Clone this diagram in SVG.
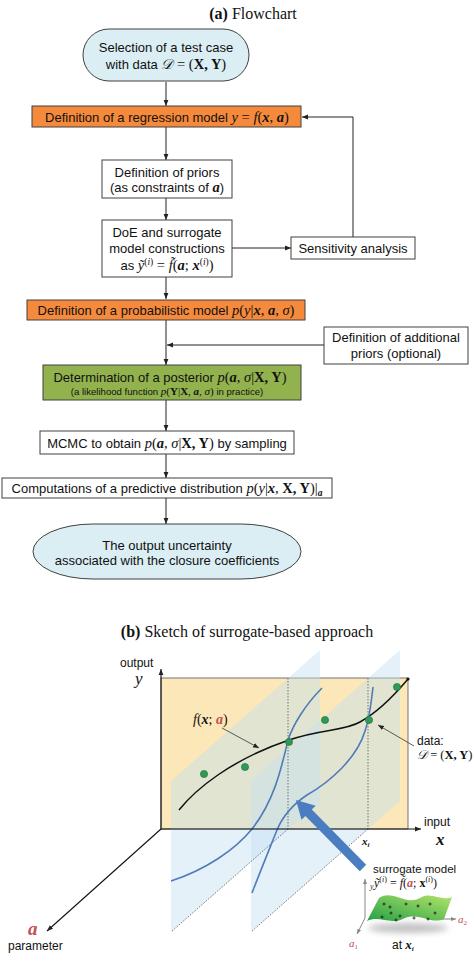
<svg xmlns="http://www.w3.org/2000/svg" width="474" height="961" viewBox="0 0 474 961">
<style>
.t{font-family:"Liberation Sans",Arial,sans-serif;font-size:13px;fill:#111}
.m{font-family:"Liberation Serif","Times New Roman",serif}
.t .m{font-size:14.5px}
.s{font-size:9.6px}
.s .m{font-size:11px}
.i{font-style:italic}
.b{font-weight:bold}
.r{fill:#c0504d}
.ttl{font-family:"Liberation Serif","Times New Roman",serif;font-size:16px;fill:#111}
.box{stroke:#404040;stroke-width:1}
.wb{fill:#fff}
.or{fill:#f58a3c}
.gr{fill:#92b24e}
.lb{fill:#daeef4}
.conn{stroke:#222;stroke-width:1;fill:none;marker-end:url(#ah)}
.plane{fill:#c4e1f1;opacity:0.45}
.dot{stroke:#555;stroke-width:0.8;stroke-dasharray:1.5,1.5;fill:none}
.blue{stroke:#4f7cb8;stroke-width:1.6;fill:none}
.pt{fill:#2e9a55;stroke:#1f6b3a;stroke-width:0.6}
.ax{stroke:#111;stroke-width:1.1;fill:none;marker-end:url(#ah)}
.lead{stroke:#333;stroke-width:0.8;fill:none;marker-end:url(#ah)}
.sax{stroke:#888;stroke-width:1;fill:none;marker-end:url(#ahg)}
.pl{stroke:#111;stroke-width:0.8}
</style>
<defs>
<marker id="ah" viewBox="0 0 10 10" refX="10" refY="5" markerUnits="userSpaceOnUse" markerWidth="6" markerHeight="6" orient="auto"><path d="M0,1 L10,5 L0,9 z" fill="#222"/></marker>
<marker id="ahg" viewBox="0 0 10 10" refX="10" refY="5" markerUnits="userSpaceOnUse" markerWidth="5" markerHeight="5" orient="auto"><path d="M0,1 L10,5 L0,9 z" fill="#888"/></marker>
<linearGradient id="gsurf" x1="0" y1="1" x2="1" y2="0"><stop offset="0" stop-color="#24a046"/><stop offset="1" stop-color="#b4e46a"/></linearGradient>
<filter id="blur" x="-30%" y="-50%" width="160%" height="200%"><feGaussianBlur stdDeviation="3"/></filter>
</defs>

<text class="ttl" x="253" y="19" text-anchor="middle"><tspan class="b">(a)</tspan> Flowchart</text>

<g id="connectors">
<path class="conn" d="M166,82 V106"/>
<path class="conn" d="M166,127 V160"/>
<path class="conn" d="M166,198 V220"/>
<path class="conn" d="M232,248 H291"/>
<path class="conn" d="M353,237 V117 H302"/>
<path class="conn" d="M166,277 V299"/>
<path class="conn" d="M166,320 V365"/>
<path class="conn" d="M324,345 H167"/>
<path class="conn" d="M166,400 V431"/>
<path class="conn" d="M166,454 V478"/>
<path class="conn" d="M166,498 V524"/>
</g>

<g id="start">
<rect class="box lb" x="83" y="29" width="166" height="52" rx="26" ry="26"/>
<text class="t" x="166" y="52" text-anchor="middle">Selection of a test case</text>
<text class="t" x="166" y="68.5" text-anchor="middle">with data <tspan class="m i">𝒟</tspan><tspan class="m"> = (</tspan><tspan class="m b">X, Y</tspan><tspan class="m">)</tspan></text>
</g>

<g id="regression">
<rect class="box or" x="32" y="106" width="269" height="21"/>
<text class="t" x="167" y="121.5" text-anchor="middle">Definition of a regression model <tspan class="m i">y</tspan><tspan class="m"> = </tspan><tspan class="m i">f</tspan><tspan class="m">(</tspan><tspan class="m i b">x</tspan><tspan class="m">, </tspan><tspan class="m i b">a</tspan><tspan class="m">)</tspan></text>
</g>

<g id="priors">
<rect class="box wb" x="102" y="160" width="130" height="38"/>
<text class="t" x="167" y="176.5" text-anchor="middle">Definition of priors</text>
<text class="t" x="167" y="192" text-anchor="middle">(as constraints of <tspan class="m i b">a</tspan>)</text>
</g>

<g id="doe">
<rect class="box wb" x="102" y="220" width="130" height="57"/>
<text class="t" x="167" y="236.5" text-anchor="middle">DoE and surrogate</text>
<text class="t" x="167" y="252.5" text-anchor="middle">model constructions</text>
<text class="t" x="167" y="270" text-anchor="middle">as <tspan class="m i">ỹ</tspan><tspan class="m" style="font-size:9.5px" dy="-5">(</tspan><tspan class="m i" style="font-size:9.5px">i</tspan><tspan class="m" style="font-size:9.5px">)</tspan><tspan class="m" dy="5"> = </tspan><tspan class="m i">f̃</tspan><tspan class="m">(</tspan><tspan class="m i b">a</tspan><tspan class="m">; </tspan><tspan class="m i b">x</tspan><tspan class="m" style="font-size:9.5px" dy="-5">(</tspan><tspan class="m i" style="font-size:9.5px">i</tspan><tspan class="m" style="font-size:9.5px">)</tspan><tspan class="m" dy="5">)</tspan></text>
</g>

<g id="sensitivity">
<rect class="box wb" x="291" y="237" width="124" height="22"/>
<text class="t" x="353" y="252.5" text-anchor="middle">Sensitivity analysis</text>
</g>

<g id="probabilistic">
<rect class="box or" x="27" y="300" width="278" height="20"/>
<text class="t" x="166" y="314.5" text-anchor="middle">Definition of a probabilistic model <tspan class="m i">p</tspan><tspan class="m">(</tspan><tspan class="m i">y</tspan><tspan class="m">|</tspan><tspan class="m i b">x</tspan><tspan class="m">, </tspan><tspan class="m i b">a</tspan><tspan class="m">, </tspan><tspan class="m i">σ</tspan><tspan class="m">)</tspan></text>
</g>

<g id="additional">
<rect class="box wb" x="324" y="327" width="144" height="37"/>
<text class="t" x="396" y="341.5" text-anchor="middle">Definition of additional</text>
<text class="t" x="396" y="357.5" text-anchor="middle">priors (optional)</text>
</g>

<g id="posterior">
<rect class="box gr" x="43" y="365" width="258" height="35"/>
<text class="t" x="170" y="381.5" text-anchor="middle">Determination of a posterior <tspan class="m i">p</tspan><tspan class="m">(</tspan><tspan class="m i b">a</tspan><tspan class="m">, </tspan><tspan class="m i">σ</tspan><tspan class="m">|</tspan><tspan class="m b">X, Y</tspan><tspan class="m">)</tspan></text>
<text class="t s" x="167" y="395" text-anchor="middle">(a likelihood  function <tspan class="m i">p</tspan><tspan class="m">(</tspan><tspan class="m b">Y</tspan><tspan class="m">|</tspan><tspan class="m b">X</tspan><tspan class="m">, </tspan><tspan class="m i b">a</tspan><tspan class="m">, </tspan><tspan class="m i">σ</tspan><tspan class="m">)</tspan> in practice)</text>
</g>

<g id="mcmc">
<rect class="box wb" x="40" y="431" width="254" height="23"/>
<text class="t" x="167" y="447.5" text-anchor="middle">MCMC to obtain <tspan class="m i">p</tspan><tspan class="m">(</tspan><tspan class="m i b">a</tspan><tspan class="m">, </tspan><tspan class="m i">σ</tspan><tspan class="m">|</tspan><tspan class="m b">X, Y</tspan><tspan class="m">)</tspan> by sampling</text>
</g>

<g id="predictive">
<rect class="box wb" x="2" y="478" width="330" height="20"/>
<text class="t" x="167" y="492.5" text-anchor="middle">Computations of a predictive distribution <tspan class="m i">p</tspan><tspan class="m">(</tspan><tspan class="m i">y</tspan><tspan class="m">|</tspan><tspan class="m i b">x</tspan><tspan class="m">, </tspan><tspan class="m b">X, Y</tspan><tspan class="m">)|</tspan><tspan class="m i b" style="font-size:9.5px" dy="3">a</tspan></text>
</g>

<g id="end">
<rect class="box lb" x="33" y="524" width="268" height="55" rx="60" ry="27.5"/>
<text class="t" x="167" y="549.5" text-anchor="middle">The output uncertainty</text>
<text class="t" x="167" y="565" text-anchor="middle">associated with the closure coefficients</text>
</g>

<text class="ttl" x="247" y="637" text-anchor="middle"><tspan class="b">(b)</tspan> Sketch of surrogate-based approach</text>

<g id="sketch">
<rect x="161" y="678" width="247" height="151" fill="#fce7b8" stroke="#555" stroke-width="0.8"/>
<polygon class="plane" points="171,932 171,781 320,650 320,801"/>
<polygon class="plane" points="251,932 251,781 400,650 400,801"/>
<path class="dot" d="M288,678 V829 M368,678 V829"/>
<path class="dot" d="M288,829 L171,932 M368,829 L251,932"/>
<path d="M179,810 C195,790 230,760 289,740 C320,729 345,731 360,722 C378,712 392,698 408,679" stroke="#111" stroke-width="1.5" fill="none"/>
<circle cx="408" cy="679" r="1.6" fill="#111"/>
<path class="blue" d="M322,688 C305,705 293,725 288,740 C282,765 275,800 252,829 C235,850 205,870 171,881"/>
<path class="blue" d="M373,687 C371,705 369,720 365,731 C357,758 330,782 307,795 C292,805 282,818 277,830 C269,850 260,872 252,893"/>
<circle class="pt" cx="204" cy="774" r="3.6"/>
<circle class="pt" cx="245" cy="767" r="3.6"/>
<circle class="pt" cx="289" cy="742" r="3.6"/>
<circle class="pt" cx="325" cy="720" r="3.6"/>
<circle class="pt" cx="369" cy="720" r="3.6"/>
<circle class="pt" cx="397" cy="687" r="3.6"/>
<path class="ax" d="M161,829 V669"/>
<path class="ax" d="M161,829 H421"/>
<path class="ax" d="M161,829 L47,931"/>
<polygon points="296,800 315.7,805.8 311.8,809.6 366.2,864.8 359.8,871.2 305.4,816 301.5,819.8" fill="#4a7ec0"/>
<path class="lead" d="M222,728 L259,748"/>
<path class="lead" d="M414,746 L378,725"/>
<text class="t" x="120" y="667" style="font-size:12px">output</text>
<text class="m i" x="135" y="684" font-size="17" fill="#111">y</text>
<text class="m" x="193" y="724" font-size="14" fill="#111"><tspan class="i">f</tspan>(<tspan class="i b">x</tspan>; <tspan class="i b r">a</tspan>)</text>
<text class="t" x="417" y="745" style="font-size:12px">data:</text>
<text class="m" x="417" y="759" font-size="12.5" fill="#111"><tspan class="i">𝒟</tspan> = (<tspan class="b">X, Y</tspan>)</text>
<text class="t" x="424" y="826" style="font-size:12px">input</text>
<text class="m i b" x="436" y="845" font-size="17" fill="#111">x</text>
<text class="m i b" x="362" y="845" font-size="11" fill="#111">x<tspan font-size="7" dy="2">i</tspan></text>
<text class="m i b r" x="28" y="935" font-size="19">a</text>
<text class="t" x="8" y="950" style="font-size:12px">parameter</text>
<text class="t" x="373" y="873" style="font-size:11.5px">surrogate model</text>
<text class="m" x="374" y="887" font-size="12" fill="#111"><tspan class="i">ỹ</tspan><tspan font-size="8" dy="-5">(</tspan><tspan class="i" font-size="8">i</tspan><tspan font-size="8">)</tspan><tspan dy="5"> = </tspan><tspan class="i">f̃</tspan>(<tspan class="i b r">a</tspan>; <tspan class="b">x</tspan><tspan font-size="8" dy="-5">(</tspan><tspan class="i" font-size="8">i</tspan><tspan font-size="8">)</tspan><tspan dy="5">)</tspan></text>
<ellipse cx="408" cy="928" rx="40" ry="5" fill="#999" opacity="0.6" filter="url(#blur)"/>
<path class="sax" d="M365,918 V879"/>
<path class="sax" d="M365,918 L357,934"/>
<path class="sax" d="M440,919 H456"/>
<path d="M379,898 C393,889 405,906 420,898 C432,891 441,902 452,897 L444,919 C431,925 420,912 405,918 C390,926 380,915 367,921 Z" fill="url(#gsurf)"/>
<g class="pl">
<path d="M382.5,904 h3 M384,902.5 v3"/>
<path d="M388.5,907 h3 M390,905.5 v3"/>
<path d="M404.5,904 h3 M406,902.5 v3"/>
<path d="M416.5,906 h3 M418,904.5 v3"/>
<path d="M428.5,904 h3 M430,902.5 v3"/>
<path d="M380.5,917 h3 M382,915.5 v3"/>
<path d="M389.5,913 h3 M391,911.5 v3"/>
<path d="M398.5,916 h3 M400,914.5 v3"/>
<path d="M394.5,920 h3 M396,918.5 v3"/>
<path d="M412.5,918 h3 M414,916.5 v3"/>
<path d="M426.5,919 h3 M428,917.5 v3"/>
<path d="M433.5,913 h3 M435,911.5 v3"/>
</g>
<text class="m i" x="370" y="889" font-size="8" fill="#333">y</text>
<text class="m i r" x="349" y="947" font-size="11">a<tspan font-size="7" dy="2" font-style="normal">1</tspan></text>
<text class="m i r" x="458" y="923" font-size="11">a<tspan font-size="7" dy="2" font-style="normal">2</tspan></text>
<text class="t" x="392" y="949" style="font-size:12px">at <tspan class="m i b" style="font-size:13px">x<tspan style="font-size:7px" dy="2">i</tspan></tspan></text>
</g>
</svg>
